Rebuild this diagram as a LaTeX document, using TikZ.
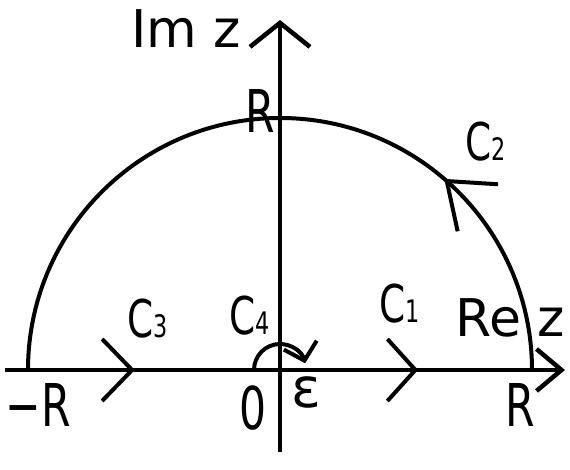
\documentclass[tikz,border=0pt]{standalone}
\usepackage{fontspec}
\setmainfont{DejaVu Sans}
\newfontfamily\narrowfont{DejaVu Sans}[FakeStretch=0.72]
\usetikzlibrary{arrows.meta,decorations.markings}

\newcommand{\fsz}[1]{\fontsize{#1}{#1}\selectfont}

\begin{document}
\begin{tikzpicture}[x=1pt,y=1pt,
  axis/.style={line width=4.5pt},
  contour/.style={line width=4pt},
  lbl/.style={inner sep=0pt,anchor=base,font=\fsz{52}},
  clbl/.style={inner sep=0pt,anchor=base,font=\narrowfont\fsz{52}},
  big/.style={inner sep=0pt,anchor=base,font=\narrowfont\fsz{59}},
  midarrow/.style 2 args={postaction={decorate},
    decoration={markings,mark=at position #1 with {\arrow{Straight Barb[length=#2,width=62pt]}}}}]
\useasboundingbox (-280,-100) rectangle (290,370);

\coordinate (xl) at (-275,0);
\coordinate (xr) at (285,0);
\coordinate (yb) at (0,-82);
\coordinate (yt) at (0,350);
\draw[axis,-{Straight Barb[length=25pt,width=42pt]}] (xl) -- (xr);
\draw[axis,-{Straight Barb[length=24pt,width=60pt]}] (yb) -- (yt);

\coordinate (mR) at (-252,0);
\coordinate (pR) at (252,0);
\coordinate (me) at (-26,0);
\coordinate (pe) at (26,0);
\draw[contour,midarrow={0.473}{30pt}] (mR) -- (me);
\draw[contour,midarrow={0.496}{28pt}] (pe) -- (pR);
\draw[contour,midarrow={0.274}{41pt}] (pR) arc[start angle=0,end angle=180,radius=252];
\draw[contour,-{Straight Barb[length=16pt,width=34pt]}] (me) arc[start angle=180,end angle=15,radius=26];

\node[lbl] (imz) at (-94,322) {Im z};
\node[lbl] (rez) at (230,33) {Re z};
\node[big] (Rtop) at (-20,237) {R};
\node[big] (Rright) at (240,-57) {R};
\node[big] (Rleft) at (-242,-57) {−R};
\node[big] (zero) at (-27,-60) {0};
\node[inner sep=0pt,anchor=base,font=\fsz{55}] (eps) at (26,-38) {ε};
\node[clbl] (c1) at (120,47) {C{\fsz{31}1}};
\node[clbl] (c2) at (206,209) {C{\fsz{31}2}};
\node[clbl] (c3) at (-132,32) {C{\fsz{31}3}};
\node[clbl] (c4) at (-30,35) {C{\fsz{31}4}};
\end{tikzpicture}
\end{document}
